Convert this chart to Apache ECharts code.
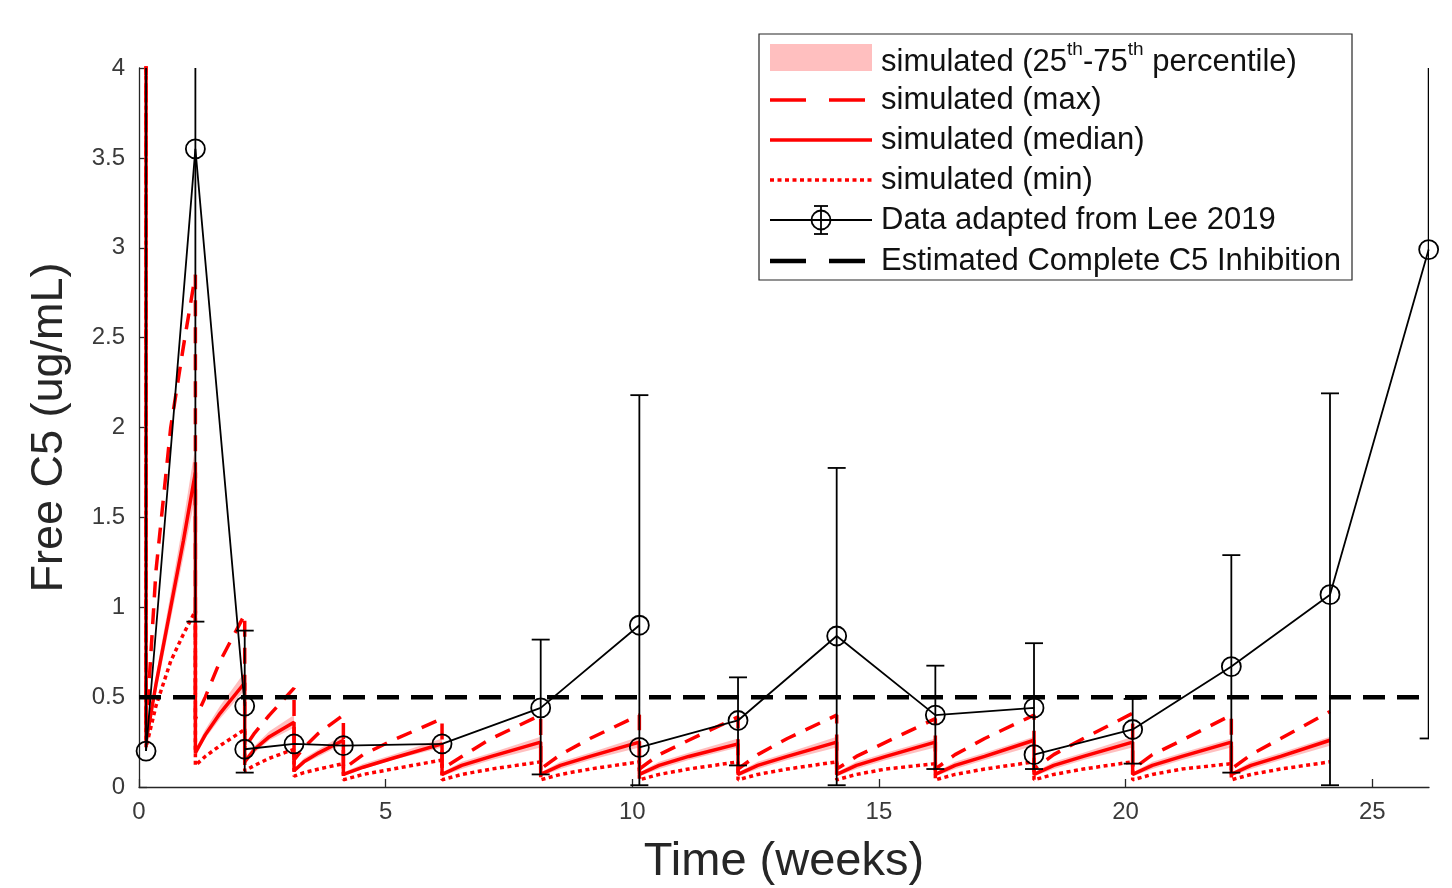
<!DOCTYPE html>
<html>
<head>
<meta charset="utf-8">
<script src="https://cdn.jsdelivr.net/npm/echarts@6/dist/echarts.min.js"></script>
<style>
html,body{margin:0;padding:0;background:#fff;}
#chart{width:1452px;height:888px;}
</style>
</head>
<body>
<div id="chart"></div>
<script>
// ---------- simulated percentiles (time in weeks, value in ug/mL) ----------
const simTimes = [
  0.143, 0.143, 0.343, 0.643, 0.9, 1.143,
  1.143, 1.343, 1.643, 2.143,
  2.143, 2.343, 2.643, 3.143,
  3.143, 3.343, 3.643, 4.143,
  4.143, 4.543, 5.143, 6.143,
  6.143, 6.543, 7.143, 8.143,
  8.143, 8.543, 9.143, 10.143,
  10.143, 10.543, 11.143, 12.143,
  12.143, 12.543, 13.143, 14.143,
  14.143, 14.543, 15.143, 16.143,
  16.143, 16.543, 17.143, 18.143,
  18.143, 18.543, 19.143, 20.143,
  20.143, 20.543, 21.143, 22.143,
  22.143, 22.543, 23.143, 24.143
];
const simMax = [
  4.5, 0.30, 1.20, 2.00, 2.45, 2.85,
  0.38, 0.50, 0.70, 0.96,
  0.22, 0.30, 0.40, 0.55,
  0.15, 0.22, 0.30, 0.40,
  0.10, 0.18, 0.26, 0.38,
  0.10, 0.17, 0.27, 0.40,
  0.10, 0.18, 0.27, 0.40,
  0.10, 0.18, 0.26, 0.39,
  0.10, 0.18, 0.27, 0.40,
  0.10, 0.17, 0.25, 0.38,
  0.10, 0.18, 0.27, 0.40,
  0.10, 0.18, 0.27, 0.41,
  0.10, 0.18, 0.26, 0.40,
  0.10, 0.18, 0.27, 0.42
];
const simP75 = [
  4.5, 0.27, 0.62, 1.08, 1.48, 1.90,
  0.21, 0.32, 0.45, 0.64,
  0.16, 0.23, 0.31, 0.40,
  0.10, 0.16, 0.21, 0.29,
  0.08, 0.13, 0.18, 0.27,
  0.08, 0.14, 0.19, 0.28,
  0.08, 0.14, 0.19, 0.28,
  0.08, 0.14, 0.19, 0.27,
  0.08, 0.14, 0.19, 0.28,
  0.08, 0.14, 0.19, 0.27,
  0.08, 0.14, 0.19, 0.28,
  0.08, 0.14, 0.19, 0.28,
  0.08, 0.14, 0.19, 0.27,
  0.08, 0.14, 0.19, 0.28
];
const simMedian = [
  4.5, 0.25, 0.57, 1.00, 1.37, 1.75,
  0.19, 0.29, 0.41, 0.58,
  0.14, 0.21, 0.28, 0.36,
  0.09, 0.14, 0.19, 0.26,
  0.07, 0.11, 0.16, 0.24,
  0.07, 0.12, 0.17, 0.25,
  0.07, 0.12, 0.17, 0.25,
  0.07, 0.12, 0.17, 0.24,
  0.07, 0.12, 0.17, 0.25,
  0.07, 0.12, 0.17, 0.25,
  0.07, 0.12, 0.17, 0.26,
  0.07, 0.12, 0.17, 0.25,
  0.07, 0.12, 0.17, 0.25,
  0.07, 0.12, 0.17, 0.26
];
const simP25 = [
  4.5, 0.24, 0.52, 0.93, 1.28, 1.62,
  0.18, 0.27, 0.38, 0.54,
  0.13, 0.19, 0.26, 0.33,
  0.08, 0.13, 0.17, 0.24,
  0.06, 0.10, 0.15, 0.22,
  0.06, 0.10, 0.15, 0.22,
  0.06, 0.10, 0.15, 0.22,
  0.06, 0.10, 0.15, 0.22,
  0.06, 0.10, 0.15, 0.22,
  0.06, 0.10, 0.15, 0.22,
  0.06, 0.10, 0.15, 0.23,
  0.06, 0.10, 0.15, 0.22,
  0.06, 0.10, 0.15, 0.22,
  0.06, 0.10, 0.15, 0.23
];
const simMin = [
  4.5, 0.22, 0.45, 0.70, 0.85, 0.98,
  0.12, 0.17, 0.23, 0.32,
  0.09, 0.12, 0.16, 0.21,
  0.06, 0.08, 0.10, 0.13,
  0.04, 0.07, 0.10, 0.15,
  0.04, 0.07, 0.10, 0.14,
  0.04, 0.07, 0.10, 0.14,
  0.04, 0.07, 0.10, 0.14,
  0.04, 0.07, 0.10, 0.14,
  0.04, 0.07, 0.10, 0.13,
  0.04, 0.07, 0.10, 0.14,
  0.04, 0.07, 0.10, 0.14,
  0.04, 0.07, 0.10, 0.13,
  0.04, 0.07, 0.10, 0.14
];

// ---------- observed data (Lee 2019) ----------
const obsTimes  = [0.143, 1.143, 2.143, 2.143, 3.143, 4.143, 6.143, 8.143, 10.143, 10.143, 12.143, 14.143, 16.143, 18.143, 18.143, 20.143, 22.143, 24.143, 26.143];
const obsValues = [0.20, 3.55, 0.45, 0.21, 0.24, 0.23, 0.24, 0.44, 0.90, 0.22, 0.37, 0.84, 0.40, 0.44, 0.18, 0.32, 0.67, 1.07, 2.99];
const obsLow    = [null, 0.92, null, 0.08, null, null, null, 0.07, null, 0.01, 0.12, 0.01, 0.10, null, 0.10, 0.13, 0.08, 0.01, 0.27];
const obsHigh   = [5.00, 6.20, 0.87, null, null, null, null, 0.82, 2.18, null, 0.61, 1.775, 0.675, 0.80, null, 0.49, 1.29, 2.19, 5.70];

// ---------- threshold ----------
const thresholdTimes  = [0, 26.15];
const thresholdValues = [0.5, 0.5];

// ---------- axes ----------
const xTickValues = [0, 5, 10, 15, 20, 25];
const xMin = 0, xMax = 26.15;
const yMin = 0, yMax = 4, yStep = 0.5;

const legendLabels = [
  '{n|simulated (25}{s|th}{n|-75}{s|th}{n| percentile)}',
  'simulated (max)',
  'simulated (median)',
  'simulated (min)',
  'Data adapted from Lee 2019',
  'Estimated Complete C5 Inhibition'
];

const FONT = "'Liberation Sans', Arial, Helvetica, sans-serif";
const RED = '#ff0000';
const BAND = 'rgba(255,0,0,0.25)';
const AXIS = '#262626';

const pairs = (xs, ys) => xs.map((x, i) => [x, ys[i]]);

function renderBand(params, api) {
  const upper = simTimes.map((t, i) => api.coord([t, simP75[i]]));
  const lower = simTimes.map((t, i) => api.coord([t, simP25[i]])).reverse();
  return { type: 'polygon', shape: { points: upper.concat(lower) }, style: { fill: BAND } };
}

function renderErr(params, api) {
  const i = params.dataIndex;
  const x = obsTimes[i], v = obsValues[i];
  const lo = obsLow[i], hi = obsHigh[i];
  if (lo == null && hi == null) return null;
  const pTop = api.coord([x, hi == null ? v : hi]);
  const pBot = api.coord([x, lo == null ? v : lo]);
  const st = { stroke: '#000', lineWidth: 1.8 };
  const cw = 9;
  const children = [{ type: 'line', shape: { x1: pTop[0], y1: pTop[1], x2: pBot[0], y2: pBot[1] }, style: st }];
  if (hi != null) children.push({ type: 'line', shape: { x1: pTop[0] - cw, y1: pTop[1], x2: pTop[0] + cw, y2: pTop[1] }, style: st });
  if (lo != null) children.push({ type: 'line', shape: { x1: pBot[0] - cw, y1: pBot[1], x2: pBot[0] + cw, y2: pBot[1] }, style: st });
  return { type: 'group', children };
}

// ---------- legend (drawn as graphic) ----------
const LX = 759, LY = 34, LW = 593, LH = 246;
const rowY = [59, 100, 140, 180, 220, 261];
const iconX1 = 770, iconX2 = 872, textX = 881;
const legendGraphics = [
  { type: 'rect', shape: { x: LX, y: LY, width: LW, height: LH }, style: { fill: '#fff', stroke: AXIS, lineWidth: 1.2 } },
  { type: 'rect', shape: { x: iconX1, y: rowY[0] - 15, width: iconX2 - iconX1, height: 27 }, style: { fill: BAND } },
  { type: 'line', shape: { x1: iconX1, y1: rowY[1], x2: iconX2 + 6, y2: rowY[1] }, style: { stroke: RED, lineWidth: 3.5, lineDash: [36, 23] } },
  { type: 'line', shape: { x1: iconX1, y1: rowY[2], x2: iconX2, y2: rowY[2] }, style: { stroke: RED, lineWidth: 3.5 } },
  { type: 'line', shape: { x1: iconX1, y1: rowY[3], x2: iconX2, y2: rowY[3] }, style: { stroke: RED, lineWidth: 3.5, lineDash: [4, 3.5] } },
  { type: 'line', shape: { x1: iconX1, y1: rowY[4], x2: iconX2, y2: rowY[4] }, style: { stroke: '#000', lineWidth: 1.8 } },
  { type: 'line', shape: { x1: 821, y1: rowY[4] - 14, x2: 821, y2: rowY[4] + 14 }, style: { stroke: '#000', lineWidth: 1.8 } },
  { type: 'line', shape: { x1: 814, y1: rowY[4] - 14, x2: 828, y2: rowY[4] - 14 }, style: { stroke: '#000', lineWidth: 1.8 } },
  { type: 'line', shape: { x1: 814, y1: rowY[4] + 14, x2: 828, y2: rowY[4] + 14 }, style: { stroke: '#000', lineWidth: 1.8 } },
  { type: 'circle', shape: { cx: 821, cy: rowY[4], r: 9.5 }, style: { fill: 'none', stroke: '#000', lineWidth: 1.8 } },
  { type: 'line', shape: { x1: iconX1, y1: rowY[5], x2: iconX2 + 6, y2: rowY[5] }, style: { stroke: '#000', lineWidth: 4.5, lineDash: [36, 23] } }
];
legendLabels.forEach((lab, i) => {
  legendGraphics.push({
    type: 'text',
    style: {
      x: textX, y: rowY[i], text: lab, fill: '#111',
      font: '31px ' + FONT, verticalAlign: 'middle', textAlign: 'left',
      rich: {
        n: { fontSize: 31, fontFamily: FONT, lineHeight: 38, verticalAlign: 'bottom', fill: '#111' },
        s: { fontSize: 19, fontFamily: FONT, lineHeight: 19, verticalAlign: 'top', fill: '#111' }
      }
    }
  });
});

const chart = echarts.init(document.getElementById('chart'), null, { renderer: 'canvas' });
chart.setOption({
  animation: false,
  backgroundColor: '#fff',
  textStyle: { fontFamily: FONT },
  grid: { left: 139, right: 23, top: 68, bottom: 101, containLabel: false, outerBoundsMode: 'none' },
  xAxis: {
    type: 'value', min: xMin, max: xMax, interval: 5,
    name: 'Time (weeks)', nameLocation: 'middle', nameGap: 52,
    nameTextStyle: { fontSize: 47, color: AXIS, fontFamily: FONT },
    axisLine: { show: true, lineStyle: { color: AXIS, width: 1.3 } },
    axisTick: { show: true, inside: true, length: 8, customValues: xTickValues, lineStyle: { color: AXIS, width: 1.3 } },
    axisLabel: { customValues: xTickValues, fontSize: 24, color: '#3a3a3a', margin: 13, fontFamily: FONT },
    splitLine: { show: false }
  },
  yAxis: {
    type: 'value', min: yMin, max: yMax, interval: yStep,
    name: 'Free C5 (ug/mL)', nameLocation: 'middle', nameGap: 67, nameRotate: 90,
    nameTextStyle: { fontSize: 45, color: AXIS, fontFamily: FONT },
    axisLine: { show: true, lineStyle: { color: AXIS, width: 1.3 } },
    axisTick: { show: true, inside: true, length: 8, lineStyle: { color: AXIS, width: 1.3 } },
    axisLabel: { fontSize: 24, color: '#3a3a3a', margin: 14, fontFamily: FONT },
    splitLine: { show: false }
  },
  series: [
    {
      name: 'simulated (25th-75th percentile)', type: 'custom', clip: true, z: 1,
      renderItem: renderBand, data: [[0, 0]], encode: { x: 0, y: 1 }, silent: true
    },
    {
      name: 'simulated (max)', type: 'line', data: pairs(simTimes, simMax), showSymbol: false, symbol: 'none', z: 2,
      lineStyle: { color: RED, width: 3.5, type: [16, 11] }, clip: true, silent: true
    },
    {
      name: 'simulated (median)', type: 'line', data: pairs(simTimes, simMedian), showSymbol: false, symbol: 'none', z: 3,
      lineStyle: { color: RED, width: 3.5 }, clip: true, silent: true
    },
    {
      name: 'simulated (min)', type: 'line', data: pairs(simTimes, simMin), showSymbol: false, symbol: 'none', z: 2,
      lineStyle: { color: RED, width: 3.5, type: [4, 3.5] }, clip: true, silent: true
    },
    {
      name: 'Estimated Complete C5 Inhibition', type: 'line', data: pairs(thresholdTimes, thresholdValues), symbol: 'none', z: 4,
      lineStyle: { color: '#000', width: 4.5, type: [22, 12] }, clip: true, silent: true
    },
    {
      name: 'error bars', type: 'custom', clip: true, z: 5,
      renderItem: renderErr, data: pairs(obsTimes, obsValues), encode: { x: 0, y: 1 }, silent: true
    },
    {
      name: 'Data adapted from Lee 2019', type: 'line', data: pairs(obsTimes, obsValues), z: 6,
      symbol: 'circle', symbolSize: 19, showSymbol: true,
      itemStyle: { color: 'rgba(0,0,0,0)', borderColor: '#000', borderWidth: 1.8 },
      lineStyle: { color: '#000', width: 1.8 }, clip: true, silent: true
    }
  ],
  graphic: { elements: [{ type: 'group', z: 100, children: legendGraphics }] }
});
</script>
</body>
</html>
